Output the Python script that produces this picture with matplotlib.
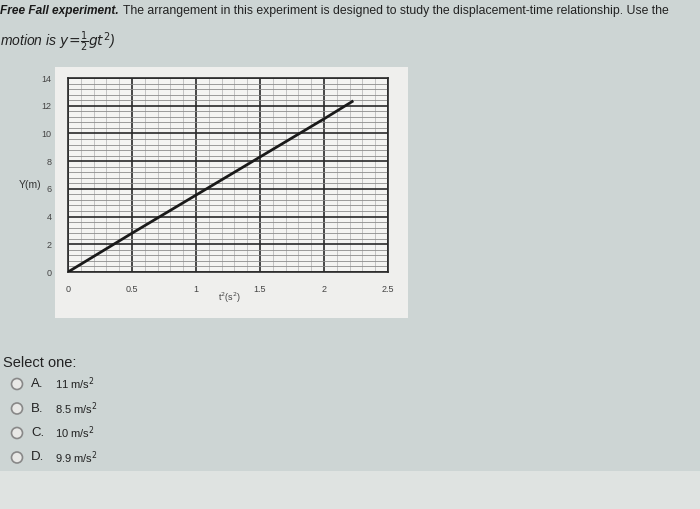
import matplotlib.pyplot as plt
from matplotlib.patches import Rectangle, Circle
import numpy as np

# data
t2 = [0, 0.5, 1.0, 1.5, 2.0, 2.22]
y = [0, 2.8, 5.55, 8.3, 11.05, 12.3]
x_ticks = [0, 0.5, 1, 1.5, 2, 2.5]
x_tick_labels = ["0", "0.5", "1", "1.5", "2", "2.5"]
y_ticks = [0, 2, 4, 6, 8, 10, 12, 14]
options = ["A.", "B.", "C.", "D."]
option_values = ["11 m/s$^2$", "8.5 m/s$^2$", "10 m/s$^2$", "9.9 m/s$^2$"]

plt.rcParams['font.family'] = ['Liberation Sans', 'DejaVu Sans']

fig = plt.figure(figsize=(7, 5.09), dpi=100)
fig.patch.set_facecolor("#cdd5d4")

# lighter bottom strip and white panel behind chart
fig.add_artist(Rectangle((0, 0), 1, 0.075, transform=fig.transFigure,
                         facecolor="#dfe3e1", edgecolor="none", zorder=0))
fig.add_artist(Rectangle((55 / 700, 1 - 318 / 509), 353 / 700, 251 / 509,
                         transform=fig.transFigure, facecolor="#efefed",
                         edgecolor="none", zorder=0))

ax = fig.add_axes([68 / 700, 1 - 272 / 509, 320 / 700, 194 / 509])
ax.set_facecolor("#f4f4f2")
ax.plot(t2, y, color="#1a1a1a", lw=2.0, zorder=3)
ax.set_xlim(0, 2.5)
ax.set_ylim(0, 14)

ax.set_xticks(x_ticks)
ax.set_xticklabels(x_tick_labels)
ax.set_yticks(y_ticks)
ax.set_xticks(np.arange(0, 2.51, 0.1), minor=True)
ax.set_yticks(np.arange(0, 14.01, 0.4), minor=True)
ax.grid(which="major", color="#2a2a2a", lw=1.2)
ax.grid(which="minor", axis="y", color="#8c8c8c", lw=0.6)
ax.grid(which="minor", axis="x", color="#b0b0b0", lw=0.5)
ax.tick_params(which="both", length=0, labelsize=6.5, labelcolor="#444444")
ax.tick_params(axis="x", pad=9)
ax.tick_params(axis="y", pad=12)
for s in ax.spines.values():
    s.set_color("#2a2a2a")
    s.set_linewidth(1.2)
ax.set_axisbelow(True)

fig.text(230 / 700, 1 - 298 / 509, "t$^2$(s$^2$)", fontsize=6.5, color="#444444",
         ha="center", va="center")
fig.text(30 / 700, 1 - 185 / 509, "Y(m)", fontsize=7.5, color="#333333",
         ha="center", va="center")

# question text
fig.text(0.0, 1 - 11 / 509, "Free Fall experiment.", fontsize=8.6, fontweight="bold",
         fontstyle="italic", color="#1a1a1a", va="center")
fig.text(123 / 700, 1 - 11 / 509,
         "The arrangement in this experiment is designed to study the displacement-time relationship. Use the",
         fontsize=8.8, color="#222222", va="center")
fig.text(0.0, 1 - 42 / 509, r"motion is $y\!=\!\frac{1}{2}gt^2$)", fontsize=10,
         fontstyle="italic", color="#222222", va="center")

fig.text(3 / 700, 1 - 363 / 509, "Select one:", fontsize=10.5, color="#222222", va="center")
for i, (opt, val) in enumerate(zip(options, option_values)):
    yy = 1 - (384 + 24.5 * i) / 509
    fig.add_artist(Circle((17 / 700 * 7, yy * 5.09), 0.055, transform=fig.dpi_scale_trans,
                          facecolor="#e8e8e6", edgecolor="#888888", lw=1.2))
    fig.text(31 / 700, yy, opt, fontsize=9.5, color="#222222", va="center")
    fig.text(55 / 700, yy, val, fontsize=8, color="#222222", va="center")

fig.savefig("out.png", dpi=100, facecolor=fig.get_facecolor())
